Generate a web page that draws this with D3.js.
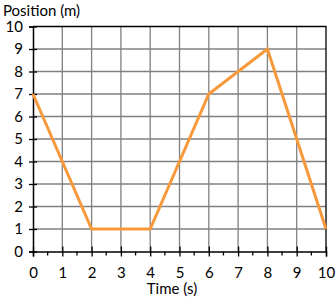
<!DOCTYPE html>
<html>
<head>
<meta charset="utf-8">
<script src="https://cdn.jsdelivr.net/npm/d3@7"></script>
<style>
    body { margin: 0; background: #fff; }
    svg text { font-family: Lato, "Open Sans", sans-serif; fill: #000; }
</style>
</head>
<body>
<div id="chart"></div>
<script>
// Data
const times = [0, 2, 4, 6, 8, 10];
const positions = [7, 1, 1, 7, 9, 1];
const xTicks = [0, 1, 2, 3, 4, 5, 6, 7, 8, 9, 10];
const yTicks = [0, 1, 2, 3, 4, 5, 6, 7, 8, 9, 10];
const xMinorTicks = [0.5, 1.5, 2.5, 3.5, 4.5, 5.5, 6.5, 7.5, 8.5, 9.5];

const width = 336;
const height = 300;
const margin = { top: 26.5, right: 10, bottom: 48.5, left: 33 };

const svg = d3
    .select("#chart")
    .append("svg")
    .attr("width", width)
    .attr("height", height);

const x = d3.scaleLinear().domain([0, 10]).range([margin.left, width - margin.right]);
const y = d3.scaleLinear().domain([0, 10]).range([height - margin.bottom, margin.top]);

// Grid lines
svg.append("g")
    .selectAll("line")
    .data(xTicks.slice(1, -1))
    .enter()
    .append("line")
    .attr("x1", (d) => x(d))
    .attr("x2", (d) => x(d))
    .attr("y1", y(0))
    .attr("y2", y(10))
    .attr("stroke", "#808080")
    .attr("stroke-width", 1.3);

svg.append("g")
    .selectAll("line")
    .data(yTicks.slice(1, -1))
    .enter()
    .append("line")
    .attr("x1", x(0))
    .attr("x2", x(10))
    .attr("y1", (d) => y(d))
    .attr("y2", (d) => y(d))
    .attr("stroke", "#808080")
    .attr("stroke-width", 1.3);

// Frame (top and right)
svg.append("path")
    .attr("d", `M${x(0)},${y(10)}H${x(10)}V${y(0)}`)
    .attr("fill", "none")
    .attr("stroke", "#000")
    .attr("stroke-width", 1.3);

// Y axis
const yAxis = svg.append("g")
    .attr("transform", `translate(${x(0)},0)`)
    .call(d3.axisLeft(y).tickValues(yTicks).tickSize(4).tickPadding(6));
yAxis.select(".domain").attr("stroke", "#000").attr("stroke-width", 1.5);
yAxis.selectAll(".tick line").attr("x2", 4).attr("x1", -4).attr("stroke-width", 1.3);
yAxis.selectAll("text").style("font-size", "15px");

// X axis
const xAxis = svg.append("g")
    .attr("transform", `translate(0,${y(0)})`)
    .call(d3.axisBottom(x).tickValues(xTicks).tickSize(5).tickPadding(11));
xAxis.select(".domain").attr("stroke", "#000").attr("stroke-width", 1.5);
xAxis.selectAll(".tick line").attr("y1", -5).attr("stroke-width", 1.3);
xAxis.selectAll("text").style("font-size", "15px");

// Minor ticks on x axis
svg.append("g")
    .selectAll("line")
    .data(xMinorTicks)
    .enter()
    .append("line")
    .attr("x1", (d) => x(d))
    .attr("x2", (d) => x(d))
    .attr("y1", y(0))
    .attr("y2", y(0) + 4)
    .attr("stroke", "#000")
    .attr("stroke-width", 1.3);

// Data line
const line = d3.line()
    .x((d, i) => x(times[i]))
    .y((d) => y(d));

svg.append("path")
    .datum(positions)
    .attr("d", line)
    .attr("fill", "none")
    .attr("stroke", "#F7993A")
    .attr("stroke-width", 3)
    .attr("stroke-linejoin", "miter");

// Axis titles
svg.append("text")
    .attr("x", 3)
    .attr("y", 16)
    .style("font-size", "15px")
    .text("Position (m)");

svg.append("text")
    .attr("x", 172)
    .attr("y", 294)
    .attr("text-anchor", "middle")
    .style("font-size", "15px")
    .text("Time (s)");
</script>
</body>
</html>
